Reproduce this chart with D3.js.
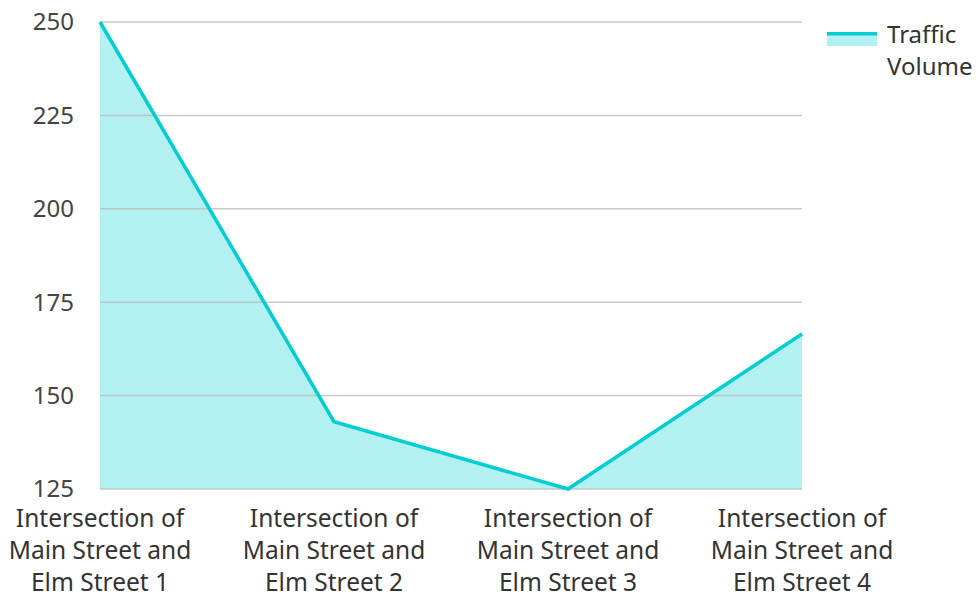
<!DOCTYPE html>
<html>
<head>
<meta charset="utf-8">
<script src="https://cdn.jsdelivr.net/npm/d3@7"></script>
<style>
  body { margin: 0; background: #fff; }
  text { font-family: "Noto Sans", "Open Sans", sans-serif; fill: #333; }
</style>
</head>
<body>
<div id="chart"></div>
<script>
const categories = [
  "Intersection of Main Street and Elm Street 1",
  "Intersection of Main Street and Elm Street 2",
  "Intersection of Main Street and Elm Street 3",
  "Intersection of Main Street and Elm Street 4"
];
const categoryLines = [
  ["Intersection of", "Main Street and", "Elm Street 1"],
  ["Intersection of", "Main Street and", "Elm Street 2"],
  ["Intersection of", "Main Street and", "Elm Street 3"],
  ["Intersection of", "Main Street and", "Elm Street 4"]
];
const trafficVolume = [250, 143, 125, 166.5];
const yTicks = [125, 150, 175, 200, 225, 250];
const seriesName = ["Traffic", "Volume"];

const width = 976, height = 594;
const margin = { top: 22, right: 174, bottom: 105, left: 100 };
const color = "#00ced1";

const svg = d3.select("#chart").append("svg")
  .attr("width", width)
  .attr("height", height);

const x = d3.scalePoint()
  .domain(categories)
  .range([margin.left, width - margin.right]);

const y = d3.scaleLinear()
  .domain([125, 250])
  .range([height - margin.bottom, margin.top]);

// area fill
const area = d3.area()
  .x((d, i) => x(categories[i]))
  .y0(y(125))
  .y1(d => y(d));

svg.append("path")
  .datum(trafficVolume)
  .attr("d", area)
  .attr("fill", color)
  .attr("fill-opacity", 0.3);

// gridlines
svg.append("g")
  .selectAll("line")
  .data(yTicks)
  .enter()
  .append("line")
  .attr("x1", margin.left)
  .attr("x2", width - margin.right)
  .attr("y1", d => y(d))
  .attr("y2", d => y(d))
  .attr("stroke", "#bbb")
  .attr("stroke-opacity", 0.8)
  .attr("stroke-width", 1.5);

// y tick labels
svg.append("g")
  .selectAll("text")
  .data(yTicks)
  .enter()
  .append("text")
  .attr("x", 74)
  .attr("y", d => y(d))
  .attr("dy", "0.35em")
  .attr("text-anchor", "end")
  .style("font-size", "24px")
  .style("fill", "#444")
  .text(d => d);

// line
const line = d3.line()
  .x((d, i) => x(categories[i]))
  .y(d => y(d));

svg.append("path")
  .datum(trafficVolume)
  .attr("d", line)
  .attr("fill", "none")
  .attr("stroke", color)
  .attr("stroke-width", 3.5);

// category labels
const xLabels = svg.append("g")
  .selectAll("text")
  .data(categories)
  .enter()
  .append("text")
  .attr("x", d => x(d))
  .attr("y", 527)
  .attr("text-anchor", "middle")
  .style("font-size", "24.5px");

xLabels.selectAll("tspan")
  .data((d, i) => categoryLines[i])
  .enter()
  .append("tspan")
  .attr("x", function () { return this.parentNode.getAttribute("x"); })
  .attr("dy", (d, i) => i === 0 ? 0 : 32)
  .text(d => d);

// legend
const legend = svg.append("g").attr("transform", "translate(827,32)");
legend.append("rect")
  .attr("x", 0).attr("y", 0)
  .attr("width", 50).attr("height", 14)
  .attr("fill", color).attr("fill-opacity", 0.3);
legend.append("line")
  .attr("x1", 0).attr("x2", 50)
  .attr("y1", 1.7).attr("y2", 1.7)
  .attr("stroke", color).attr("stroke-width", 3.5);
legend.append("text")
  .attr("x", 60)
  .attr("y", 11)
  .style("font-size", "24px")
  .selectAll("tspan")
  .data(seriesName)
  .enter()
  .append("tspan")
  .attr("x", 60)
  .attr("dy", (d, i) => i === 0 ? 0 : 32)
  .text(d => d);
</script>
</body>
</html>
